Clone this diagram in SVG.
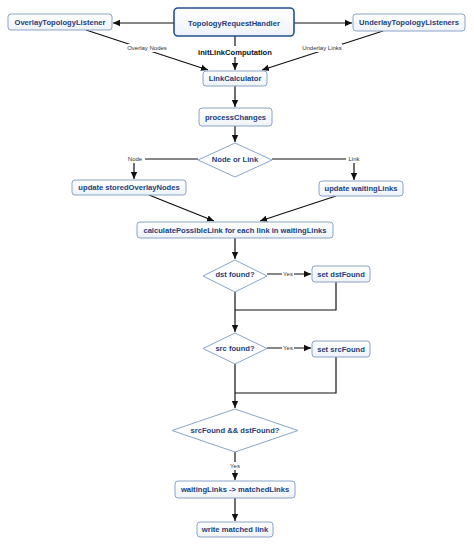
<svg xmlns="http://www.w3.org/2000/svg" width="474" height="547" viewBox="0 0 474 547">
<defs>
<marker id="ah" markerWidth="8" markerHeight="8" refX="7" refY="4" orient="auto" markerUnits="userSpaceOnUse">
<path d="M0,0.8 L7,4 L0,7.2 Z" fill="#111"/>
</marker>
<linearGradient id="g" x1="0" y1="0" x2="0" y2="1">
<stop offset="0" stop-color="#ffffff"/>
<stop offset="1" stop-color="#eef2f8"/>
</linearGradient>
</defs>
<style>
.box{fill:url(#g);stroke:#8aa4c8;stroke-width:1}
.main{fill:url(#g);stroke:#24508f;stroke-width:1.6}
.dia{fill:#ffffff;stroke:#8aa4c8;stroke-width:1}
.t{font-family:"Liberation Sans",Arial,sans-serif;font-weight:bold;font-size:7.6px;fill:#1f3f78;text-anchor:middle;dominant-baseline:central}
.e{fill:none;stroke:#111;stroke-width:1.2}
.l{font-family:"Liberation Sans",Arial,sans-serif;font-size:6px;fill:#333;text-anchor:middle;dominant-baseline:central}
.lb{font-family:"Liberation Sans",Arial,sans-serif;font-weight:bold;font-size:7.6px;fill:#111;text-anchor:middle;dominant-baseline:central}
</style>
<rect width="474" height="547" fill="#ffffff"/>
<g id="connectors">
<line class="e" x1="174" y1="23" x2="113" y2="23" marker-end="url(#ah)"/>
<line class="e" x1="294" y1="23" x2="352" y2="23" marker-end="url(#ah)"/>
<line class="e" x1="235" y1="36" x2="235" y2="70" marker-end="url(#ah)"/>
<rect x="200" y="46" width="70" height="11" fill="#fff"/>
<text class="lb" x="235" y="52">initLinkComputation</text>
<line class="e" x1="86" y1="30" x2="208" y2="70" marker-end="url(#ah)"/>
<rect x="128" y="44" width="38" height="8" fill="#fff"/>
<text class="l" x="147" y="48">Overlay Nodes</text>
<line class="e" x1="383" y1="31" x2="262" y2="70" marker-end="url(#ah)"/>
<rect x="302" y="44" width="40" height="8" fill="#fff"/>
<text class="l" x="322" y="48">Underlay Links</text>
<line class="e" x1="235" y1="86" x2="235" y2="107" marker-end="url(#ah)"/>
<line class="e" x1="235" y1="126" x2="235" y2="142" marker-end="url(#ah)"/>
<polyline class="e" points="198,159 134,159 134,179" marker-end="url(#ah)"/>
<rect x="124" y="155" width="21" height="8" fill="#fff"/>
<text class="l" x="135" y="159">Node</text>
<polyline class="e" points="272,159 354,159 354,180" marker-end="url(#ah)"/>
<rect x="346" y="155" width="15" height="8" fill="#fff"/>
<text class="l" x="354" y="159">Link</text>
<line class="e" x1="149" y1="195" x2="214" y2="221" marker-end="url(#ah)"/>
<line class="e" x1="336" y1="196" x2="260" y2="221" marker-end="url(#ah)"/>
<line class="e" x1="235" y1="238" x2="235" y2="259" marker-end="url(#ah)"/>
<line class="e" x1="267" y1="274" x2="311" y2="274" marker-end="url(#ah)"/>
<rect x="282" y="270" width="12" height="8" fill="#fff"/>
<text class="l" x="288" y="274">Yes</text>
<polyline class="e" points="336,282 336,310 235,310"/>
<line class="e" x1="235" y1="292" x2="235" y2="332" marker-end="url(#ah)"/>
<line class="e" x1="267" y1="348" x2="311" y2="348" marker-end="url(#ah)"/>
<rect x="282" y="344" width="12" height="8" fill="#fff"/>
<text class="l" x="288" y="348">Yes</text>
<polyline class="e" points="336,357 336,393 235,393"/>
<line class="e" x1="235" y1="364" x2="235" y2="408" marker-end="url(#ah)"/>
<line class="e" x1="235" y1="452" x2="235" y2="480" marker-end="url(#ah)"/>
<rect x="228" y="462" width="14" height="8" fill="#fff"/>
<text class="l" x="235" y="466">Yes</text>
<line class="e" x1="235" y1="498" x2="235" y2="521" marker-end="url(#ah)"/>
</g>
<g id="OverlayTopologyListener"><rect class="box" x="8" y="14" width="104" height="16" rx="3"/><text class="t" x="60" y="22.5">OverlayTopologyListener</text></g>
<g id="TopologyRequestHandler"><rect class="main" x="174" y="8" width="120" height="28" rx="4"/><text class="t" x="234" y="23">TopologyRequestHandler</text></g>
<g id="UnderlayTopologyListeners"><rect class="box" x="353" y="14" width="112" height="17" rx="3"/><text class="t" x="409" y="22.5">UnderlayTopologyListeners</text></g>
<g id="LinkCalculator"><rect class="box" x="203" y="71" width="64" height="15" rx="3"/><text class="t" x="235" y="78.5">LinkCalculator</text></g>
<g id="processChanges"><rect class="box" x="199" y="108" width="73" height="18" rx="3"/><text class="t" x="235.5" y="117">processChanges</text></g>
<g id="NodeOrLink"><polygon class="dia" points="235,143 272,160 235,177 198,160"/><text class="t" x="235" y="159">Node or Link</text></g>
<g id="updateStoredOverlayNodes"><rect class="box" x="72" y="180" width="114" height="15" rx="3"/><text class="t" x="129" y="187.5">update storedOverlayNodes</text></g>
<g id="updateWaitingLinks"><rect class="box" x="319" y="181" width="84" height="15" rx="3"/><text class="t" x="361" y="188.5">update waitingLinks</text></g>
<g id="calculatePossibleLink"><rect class="box" x="137" y="222" width="196" height="16" rx="3"/><text class="t" x="235" y="230">calculatePossibleLink for each link in waitingLinks</text></g>
<g id="dstFound"><polygon class="dia" points="235,260 267,276 235,292 203,276"/><text class="t" x="235" y="274.5">dst found?</text></g>
<g id="setDstFound"><rect class="box" x="312" y="266" width="58" height="16" rx="3"/><text class="t" x="341" y="274">set dstFound</text></g>
<g id="srcFound"><polygon class="dia" points="235,333 267,348.5 235,364 203,348.5"/><text class="t" x="235" y="348">src found?</text></g>
<g id="setSrcFound"><rect class="box" x="312" y="341" width="58" height="16" rx="3"/><text class="t" x="341" y="349">set srcFound</text></g>
<g id="srcAndDst"><polygon class="dia" points="235,409 298,430.5 235,452 172,430.5"/><text class="t" x="235" y="430">srcFound &amp;&amp; dstFound?</text></g>
<g id="waitingToMatched"><rect class="box" x="175" y="481" width="120" height="17" rx="3"/><text class="t" x="235" y="489.5">waitingLinks -&gt; matchedLinks</text></g>
<g id="writeMatchedLink"><rect class="box" x="197" y="522" width="76" height="15" rx="3"/><text class="t" x="235" y="529.5">write matched link</text></g>
</svg>
